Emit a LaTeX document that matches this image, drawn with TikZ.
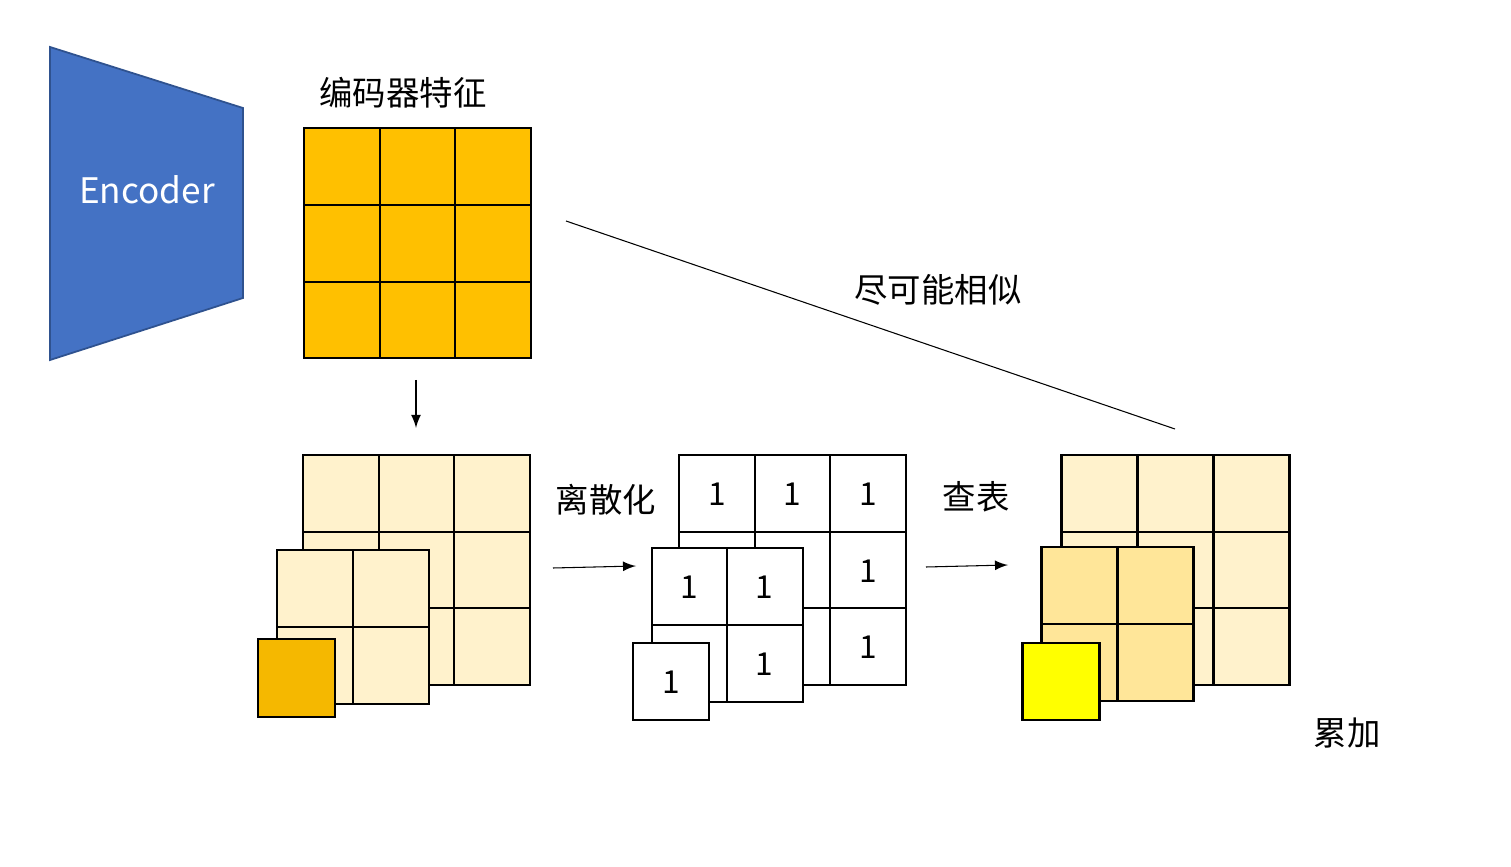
\documentclass[tikz,border=0pt]{standalone}
\usepackage{fontspec}
\newfontfamily\cjk{Noto Sans CJK SC}
\begin{document}
\begin{tikzpicture}[x=0.01cm,y=-0.01cm,
  gridline/.style={line width=0.85pt,draw=black},
  lbl/.style={font=\cjk\fontsize{9.5}{11}\selectfont,inner sep=0pt},
  num/.style={font=\cjk\fontsize{9}{11}\selectfont,inner sep=0pt},
  conn/.style={line width=0.3pt,-latex}]
\useasboundingbox[fill=white] (0,0) rectangle (1511,867);
% Encoder
\node[draw=none,inner sep=0pt] (enc) at (147,190) {};
\fill[fill={rgb,255:red,68;green,114;blue,196},draw={rgb,255:red,47;green,82;blue,143},line width=0.5pt]
 (50,47) -- (243,108) -- (243,298) -- (50,360) -- cycle;
\node[font=\cjk\fontsize{10}{12}\selectfont,text=white] at (enc) {Encoder};
% top grid
\node[lbl] (t1) at (403,93) {编码器特征};
\filldraw[gridline,fill={rgb,255:red,255;green,192;blue,0}] (304,128) rectangle (531,358);
\draw[gridline] (380,128)--(380,358) (455,128)--(455,358) (304,205)--(531,205) (304,282)--(531,282);
\coordinate (a1) at (416,380); \coordinate (a2) at (416,428);
\draw[conn] (a1) -- (a2);
% left stack
\filldraw[gridline,fill={rgb,255:red,255;green,242;blue,204}] (303,455) rectangle (530,685);
\draw[gridline] (379,455)--(379,685) (454,455)--(454,685) (303,532)--(530,532) (303,608)--(530,608);
\filldraw[gridline,fill={rgb,255:red,255;green,242;blue,204}] (277,550) rectangle (429,704);
\draw[gridline] (353,550)--(353,704) (277,627)--(429,627);
\filldraw[gridline,fill={rgb,255:red,245;green,184;blue,0}] (258,639) rectangle (335,717);
% arrow 1
\node[lbl] (d) at (606,500) {离散化};
\coordinate (b1) at (553,568); \coordinate (b2) at (636,566);
\draw[conn] (b1) -- (b2);
% middle stack
\filldraw[gridline,fill=white] (679,455) rectangle (906,685);
\draw[gridline] (755,455)--(755,685) (830,455)--(830,685) (679,532)--(906,532) (679,608)--(906,608);
\foreach \x/\y in {717/494,792/494,868/494,868/571,868/647} \node[num] at (\x,\y) {1};
\filldraw[gridline,fill=white] (652,548) rectangle (803,702);
\draw[gridline] (727,548)--(727,702) (652,625)--(803,625);
\foreach \x/\y in {689/587,764/587,764/664} \node[num] at (\x,\y) {1};
\filldraw[gridline,fill=white] (633,643) rectangle (709,720);
\node[num] at (671,682) {1};
% arrow 2
\node[lbl] (c) at (976,497) {查表};
\coordinate (c1) at (926,567); \coordinate (c2) at (1008,565);
\draw[conn] (c1) -- (c2);
% right stack
\filldraw[gridline,fill={rgb,255:red,255;green,242;blue,204}] (1061,455) rectangle (1289,685);
\draw[gridline] (1137,455)--(1137,685) (1213,455)--(1213,685) (1061,532)--(1289,532) (1061,608)--(1289,608);
\filldraw[gridline,fill={rgb,255:red,255;green,230;blue,153}] (1041,547) rectangle (1193,701);
\draw[gridline] (1117,547)--(1117,701) (1041,624)--(1193,624);
\filldraw[gridline,fill={rgb,255:red,255;green,255;blue,0}] (1022,643) rectangle (1099,720);
\node[lbl] (acc) at (1347,733) {累加};
% similarity line
\coordinate (s1) at (566,221); \coordinate (s2) at (1175,429);
\draw[line width=0.3pt] (s1) -- (s2);
\node[lbl] (sim) at (938,290) {尽可能相似};
\end{tikzpicture}
\end{document}
